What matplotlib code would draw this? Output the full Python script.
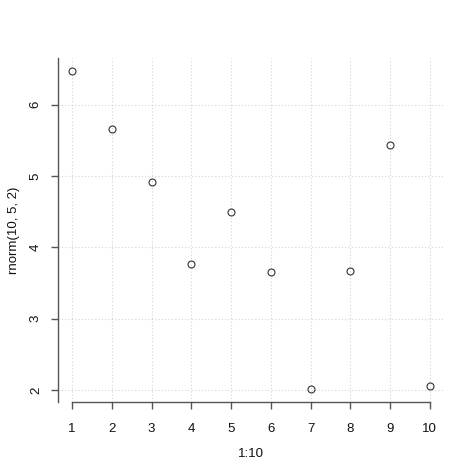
import numpy as np
import matplotlib
matplotlib.use("Agg")
import matplotlib.pyplot as plt

# values (R: plot(1:10, rnorm(10, 5, 2)))
x_vals = [1, 2, 3, 4, 5, 6, 7, 8, 9, 10]
y_vals = [6.48, 5.66, 4.92, 3.77, 4.50, 3.65, 2.01, 3.67, 5.44, 2.06]
x_ticks = [1, 2, 3, 4, 5, 6, 7, 8, 9, 10]
y_ticks = [2, 3, 4, 5, 6]

plt.rcParams["font.family"] = ["Liberation Sans", "DejaVu Sans"]

fig = plt.figure(figsize=(4.74, 4.74), dpi=100)
ax = fig.add_axes([0.122, 0.152, 0.815, 0.726])

# R-style 4% range extension
xr = max(x_vals) - min(x_vals)
yr = max(y_vals) - min(y_vals)
ax.set_xlim(min(x_vals) - 0.04 * xr, max(x_vals) + 0.04 * xr)
ax.set_ylim(min(y_vals) - 0.04 * yr, max(y_vals) + 0.04 * yr)

for xv in x_ticks:
    ax.axvline(xv, color="#d3d3d3", lw=0.8, ls=(0, (1, 2)), zorder=0)
for yv in y_ticks:
    ax.axhline(yv, color="#d3d3d3", lw=0.8, ls=(0, (1, 2)), zorder=0)

ax.plot(x_vals, y_vals, "o", mfc="none", mec="#333333", ms=5, mew=0.8)

ax.set_xticks(x_ticks)
ax.set_yticks(y_ticks)
ax.set_yticklabels([str(t) for t in y_ticks], rotation=90, va="center")

for s in ["top", "right"]:
    ax.spines[s].set_visible(False)
ax.spines["bottom"].set_bounds(1, 10)
for s in ["left", "bottom"]:
    ax.spines[s].set_color("#555555")
    ax.spines[s].set_linewidth(1.0)

ax.tick_params(axis="both", direction="out", length=5, width=1.0, color="#555555",
               labelsize=9.5, labelcolor="#111111")
ax.tick_params(axis="x", pad=10.5)
ax.tick_params(axis="y", pad=6.5)

ax.set_xlabel("1:10", fontsize=9.5, color="#111111", labelpad=9)
ax.set_ylabel("rnorm(10, 5, 2)", fontsize=9.5, color="#111111", labelpad=7)

fig.savefig("out.png", dpi=100)
